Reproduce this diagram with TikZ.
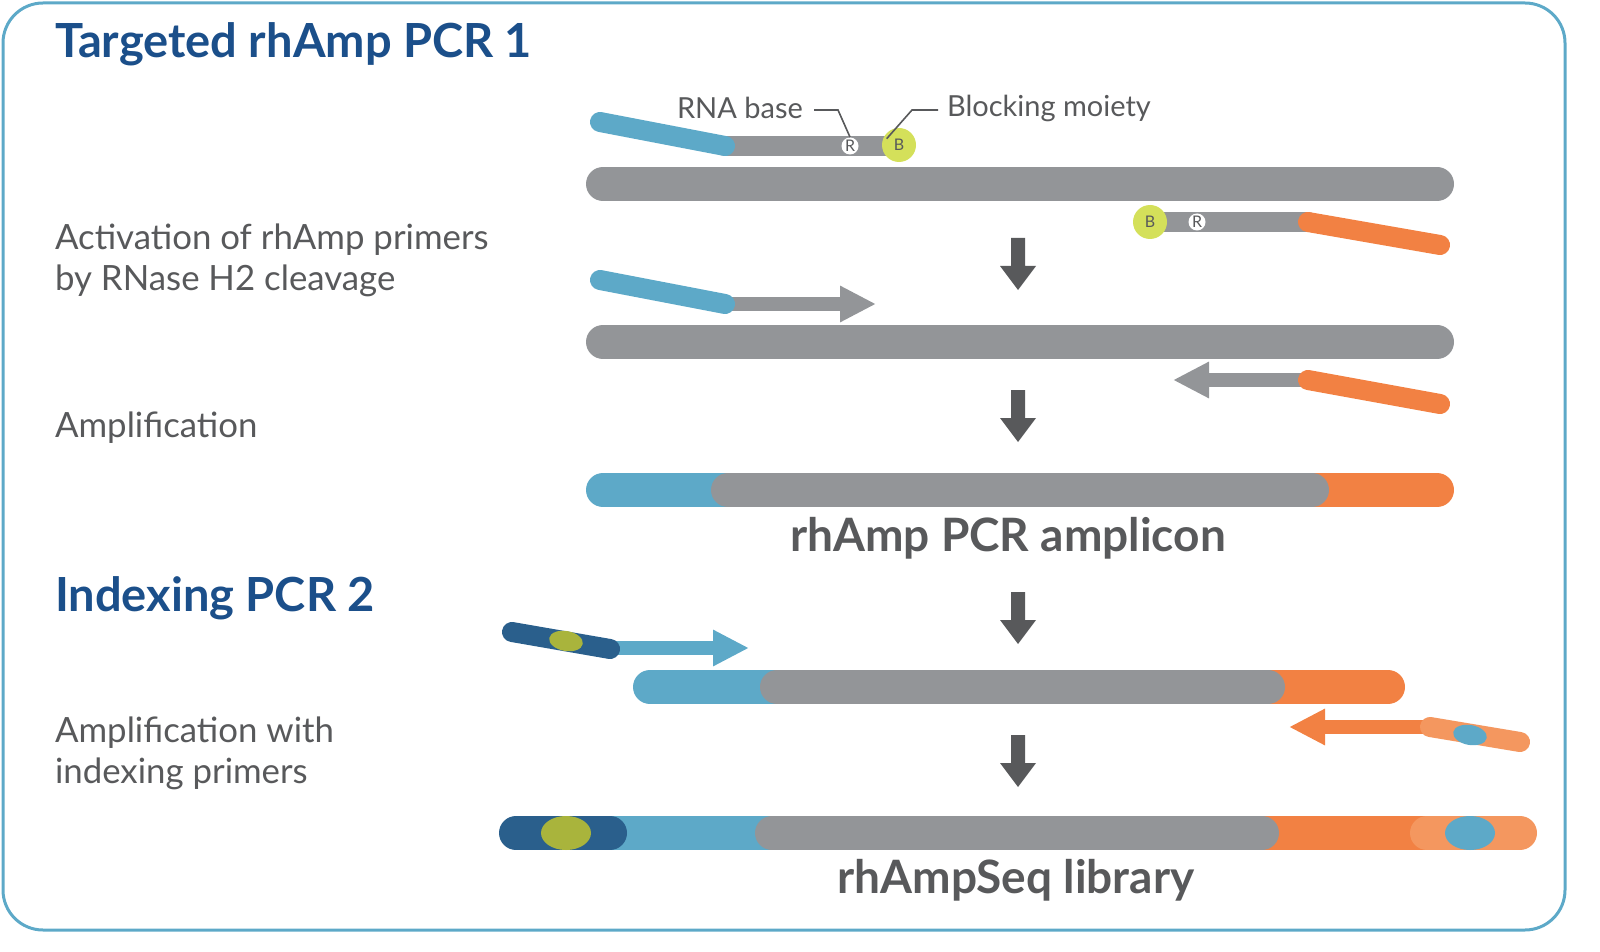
\documentclass[tikz,border=0pt]{standalone}
\usepackage{fontspec}
\setmainfont{Lato}
\usetikzlibrary{arrows.meta,shapes.geometric}
\definecolor{lb}{HTML}{5DA9C8}
\definecolor{org}{HTML}{F28143}
\definecolor{lorg}{HTML}{F4975F}
\definecolor{gr}{HTML}{939598}
\definecolor{dk}{HTML}{58595B}
\definecolor{db}{HTML}{2A5F8C}
\definecolor{ol}{HTML}{A9B43C}
\definecolor{lime}{HTML}{D4E05A}
\definecolor{tb}{HTML}{1B4F8A}
\begin{document}
\begin{tikzpicture}[x=0.5pt,y=-0.5pt,
  bar/.style={line width=17pt,line cap=round},
  pr/.style={line width=10pt,line cap=round},
  ttl/.style={anchor=west,text=tb,font=\fontsize{23.5}{27}\selectfont\bfseries},
  lbl/.style={anchor=west,text=dk,font=\fontsize{17.4}{20.5}\selectfont,align=left},
  big/.style={text=dk,font=\fontsize{23}{27}\selectfont\bfseries},
  sm/.style={text=dk,font=\fontsize{14.5}{17}\selectfont},
  circ/.style={circle,inner sep=0pt,minimum size=#1,font=\fontsize{8}{9}\selectfont,text=dk},
  down/.pic={\fill[dk] (-7,0) -- (7,0) -- (7,28) -- (18,28) -- (0,52) -- (-18,28) -- (-7,28) -- cycle;}]
\draw[lb,line width=1.5pt,rounded corners=20pt] (3,3) rectangle (1565,930);
% titles and labels
\node[ttl] (t1) at (48,44) {Targeted rhAmp PCR 1};
\node[ttl] (t2) at (48,598) {Indexing PCR 2};
\node[lbl] (l1) at (48,260) {Activation of rhAmp primers\\by RNase H2 cleavage};
\node[lbl] (l2) at (48,428) {Amplification};
\node[lbl] (l3) at (48,753) {Amplification with\\indexing primers};
% row 1
\coordinate (p1a) at (600,122); \coordinate (p1b) at (725,146); \coordinate (p1c) at (885,146);
\draw[pr,gr] (p1b) -- (p1c);
\draw[pr,lb] (p1a) -- (p1b);
\node[circ=8.5pt,fill=white] (R1) at (850,146) {R};
\node[circ=17pt,fill=lime] (B1) at (899,145) {B};
\node[sm,anchor=east] (rna) at (810,108) {RNA base};
\node[sm,anchor=west] (blk) at (940,108) {Blocking moiety};
\draw[dk,line width=0.8pt] (rna.east) ++(4,2) -- ++(24,0) -- (R1.north);
\draw[dk,line width=0.8pt] (blk.west) ++(-2,2) -- ++(-26,0) -- ([yshift=-3]B1.north west);
\coordinate (t1a) at (603,184); \coordinate (t1b) at (1437,184);
\draw[bar,gr] (t1a) -- (t1b);
\coordinate (p2a) at (1165,222); \coordinate (p2b) at (1308,222); \coordinate (p2c) at (1440,245);
\draw[pr,gr] (p2a) -- (p2b);
\draw[pr,org] (p2b) -- (p2c);
\node[circ=8.5pt,fill=white] (R2) at (1197,222) {R};
\node[circ=17pt,fill=lime] (B2) at (1150,222) {B};
\pic at (1018,238) {down};
% row 2
\coordinate (q1a) at (600,280); \coordinate (q1b) at (725,304); \coordinate (q1c) at (876,304);
\draw[gr,line width=7pt,-{Triangle[length=18pt,width=17pt]}] (q1b) -- (q1c);
\draw[pr,lb] (q1a) -- (q1b);
\draw[bar,gr] (603,342) coordinate (t2a) -- (1437,342) coordinate (t2b);
\coordinate (q2a) at (1308,380); \coordinate (q2b) at (1440,404); \coordinate (q2c) at (1173,380);
\draw[gr,line width=7pt,-{Triangle[length=18pt,width=17pt]}] (q2a) -- (q2c);
\draw[pr,org] (q2a) -- (q2b);
\pic at (1018,390) {down};
% amplicon
\draw[bar,lb] (603,490) coordinate (a1) -- (740,490) coordinate (a2);
\draw[bar,org] (1300,490) coordinate (a3) -- (1437,490) coordinate (a4);
\draw[bar,gr] (728,490) coordinate (a5) -- (1312,490) coordinate (a6);
\node[big] (amp) at (1008,538) {rhAmp PCR amplicon};
\pic at (1018,592) {down};
% index primers
\draw[lb,line width=7pt,-{Triangle[length=18pt,width=17pt]}] (600,648) coordinate (i1) -- (749,648) coordinate (i2);
\draw[pr,db] (512,632) coordinate (i3) -- (610,649) coordinate (i4);
\node[ellipse,fill=ol,minimum width=17pt,minimum height=10pt,inner sep=0pt,rotate=-10] (e1) at (566,641) {};
\draw[bar,lb] (650,687) coordinate (b1) -- (790,687) coordinate (b2);
\draw[bar,org] (1250,687) coordinate (b3) -- (1388,687) coordinate (b4);
\draw[bar,gr] (777,687) coordinate (b5) -- (1268,687) coordinate (b6);
\draw[org,line width=7pt,-{Triangle[length=18pt,width=17pt]}] (1425,727) coordinate (j1) -- (1289,727) coordinate (j2);
\draw[pr,lorg] (1430,727) coordinate (j3) -- (1520,742) coordinate (j4);
\node[ellipse,fill=lb,minimum width=17pt,minimum height=10pt,inner sep=0pt,rotate=-10] (e2) at (1470,735) {};
\pic at (1018,735) {down};
% library
\draw[bar,lb] (600,833) coordinate (c1) -- (780,833) coordinate (c2);
\draw[bar,db] (516,833) coordinate (c3) -- (610,833) coordinate (c4);
\node[ellipse,fill=ol,minimum width=25pt,minimum height=17pt,inner sep=0pt] (e3) at (566,833) {};
\draw[bar,org] (1250,833) coordinate (c5) -- (1430,833) coordinate (c6);
\draw[bar,lorg] (1427,833) coordinate (c7) -- (1520,833) coordinate (c8);
\node[ellipse,fill=lb,minimum width=25pt,minimum height=17pt,inner sep=0pt] (e4) at (1470,833) {};
\draw[bar,gr] (772,833) coordinate (c9) -- (1262,833) coordinate (c10);
\node[big] (lib) at (1016,880) {rhAmpSeq library};
\pgfresetboundingbox
\useasboundingbox (0,0) rectangle (1600,952);
\end{tikzpicture}
\end{document}
